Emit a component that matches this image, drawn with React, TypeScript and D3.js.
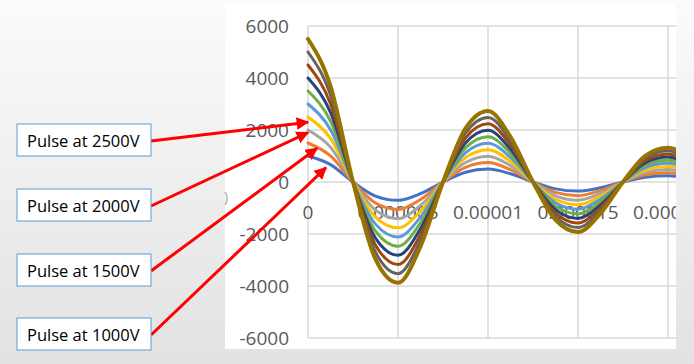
import React from "react";
import * as d3 from "d3";

// time axis samples (seconds)
const times = [0, 1.25e-6, 2.5e-6, 3.75e-6, 5e-6, 6.25e-6, 7.5e-6, 8.75e-6, 1e-5, 1.125e-5, 1.25e-5, 1.375e-5, 1.5e-5, 1.625e-5, 1.75e-5, 1.875e-5, 2e-5, 2.125e-5];

const s1000 = [1000, 670, 0, -540, -705, -450, 0, 375, 497, 315, 0, -265, -350, -220, 0, 185, 240, 155];
const s1500 = [1500, 1005, 0, -810, -1058, -675, 0, 563, 746, 473, 0, -398, -525, -330, 0, 278, 360, 233];
const s2000 = [2000, 1340, 0, -1080, -1410, -900, 0, 750, 994, 630, 0, -530, -700, -440, 0, 370, 480, 310];
const s2500 = [2500, 1675, 0, -1350, -1763, -1125, 0, 938, 1243, 788, 0, -663, -875, -550, 0, 463, 600, 388];
const s3000 = [3000, 2010, 0, -1620, -2115, -1350, 0, 1125, 1491, 945, 0, -795, -1050, -660, 0, 555, 720, 465];
const s3500 = [3500, 2345, 0, -1890, -2468, -1575, 0, 1313, 1740, 1103, 0, -928, -1225, -770, 0, 648, 840, 543];
const s4000 = [4000, 2680, 0, -2160, -2820, -1800, 0, 1500, 1988, 1260, 0, -1060, -1400, -880, 0, 740, 960, 620];
const s4500 = [4500, 3015, 0, -2430, -3173, -2025, 0, 1688, 2237, 1418, 0, -1193, -1575, -990, 0, 833, 1080, 698];
const s5000 = [5000, 3350, 0, -2700, -3525, -2250, 0, 1875, 2485, 1575, 0, -1325, -1750, -1100, 0, 925, 1200, 775];
const s5500 = [5500, 3685, 0, -2970, -3878, -2475, 0, 2063, 2734, 1733, 0, -1458, -1925, -1210, 0, 1018, 1320, 853];

const seriesValues = [s1000, s1500, s2000, s2500, s3000, s3500, s4000, s4500, s5000, s5500];
const seriesColors = ["#4472C4", "#ED7D31", "#A5A5A5", "#FFC000", "#5B9BD5", "#70AD47", "#264478", "#9E480E", "#636363", "#997300"];

const xTicks = [0, 5e-6, 1e-5, 1.5e-5, 2e-5];
const xTickLabels = ["0", "0.000005", "0.00001", "0.000015", "0.00002"];
const yTicks = [-6000, -4000, -2000, 0, 2000, 4000, 6000];

const calloutLabels = ["Pulse at 2500V", "Pulse at 2000V", "Pulse at 1500V", "Pulse at 1000V"];
// arrow targets in data units [time, value]
const calloutTargets: [number, number][] = [[0, 2300], [0, 1900], [0.5e-6, 1300], [1.0e-6, 550]];

const W = 694, H = 364;
const panel = { x: 225, y: 3, w: 451, h: 346 };
const plot = { left: 308, right: 668, top: 26, bottom: 338 };

export default function App() {
  const x = d3.scaleLinear().domain([0, 2e-5]).range([plot.left, plot.right]);
  const y = d3.scaleLinear().domain([-6000, 6000]).range([plot.bottom, plot.top]);
  const line = d3.line<[number, number]>()
    .x(d => x(d[0]))
    .y(d => y(d[1]))
    .curve(d3.curveMonotoneX);

  const boxX = 17, boxW = 134, boxH = 32;
  const boxTops = [124, 189, 254, 318];

  return (
    <svg width={W} height={H} style={{ position: "absolute", left: 0, top: 0 }}>
      <defs>
        <linearGradient id="bg" x1="0" y1="0" x2="0" y2="1">
          <stop offset="0" stopColor="#fbfbfb" />
          <stop offset="1" stopColor="#e2e2e2" />
        </linearGradient>
        <clipPath id="clipPanel">
          <rect x={panel.x} y={panel.y} width={panel.w} height={panel.h} />
        </clipPath>
        <marker id="arrowHead" viewBox="0 0 10 10" refX="9" refY="5" markerWidth="4.2" markerHeight="4.2" orient="auto" markerUnits="strokeWidth">
          <path d="M0,0 L10,5 L0,10 z" fill="#FF0000" />
        </marker>
      </defs>
      <rect x={0} y={0} width={W} height={H} fill="url(#bg)" />
      <rect x={panel.x} y={panel.y} width={panel.w} height={panel.h} fill="#ffffff" />
      <text x={224} y={202} fontSize={14} fill="#a0a0a0" fontFamily="Open Sans">)</text>

      <g clipPath="url(#clipPanel)">
        {yTicks.map(t => (
          <line key={"h" + t} x1={plot.left} x2={panel.x + panel.w} y1={y(t)} y2={y(t)} stroke="#d9d9d9" strokeWidth={1.5} />
        ))}
        {xTicks.map(t => (
          <line key={"v" + t} x1={x(t)} x2={x(t)} y1={plot.top} y2={plot.bottom} stroke="#d9d9d9" strokeWidth={1.5} />
        ))}
        {xTicks.map((t, i) => (
          <text key={"xl" + t} x={x(t)} y={y(0) + 30} dy="0.35em" textAnchor="middle" fontSize={19} fill="#595959" fontFamily="Open Sans">{xTickLabels[i]}</text>
        ))}
        {yTicks.map(t => (
          <text key={"yl" + t} x={289} y={y(t)} dy="0.35em" textAnchor="end" fontSize={19} fill="#595959" fontFamily="Open Sans">{t}</text>
        ))}
        {seriesValues.map((vals, i) => (
          <path key={"s" + i}
            d={line(vals.map((v, j) => [times[j], v] as [number, number])) || ""}
            fill="none" stroke={seriesColors[i]} strokeWidth={i === seriesValues.length - 1 ? 4 : 3}
            strokeLinejoin="round" strokeLinecap="round" />
        ))}
      </g>

      {calloutLabels.map((lab, i) => {
        const top = boxTops[i];
        const mid = top + boxH / 2;
        const [tx, tv] = calloutTargets[i];
        return (
          <g key={"c" + i}>
            <line x1={boxX + boxW} y1={mid + 1} x2={x(tx)} y2={y(tv)} stroke="#FF0000" strokeWidth={3} markerEnd="url(#arrowHead)" />
            <rect x={boxX} y={top} width={boxW} height={boxH} fill="#ffffff" stroke="#5B9BD5" strokeWidth={1} />
            <text x={boxX + 10} y={mid + 1} dy="0.35em" fontSize={16.5} fill="#000000" fontFamily="Open Sans">{lab}</text>
          </g>
        );
      })}
    </svg>
  );
}
